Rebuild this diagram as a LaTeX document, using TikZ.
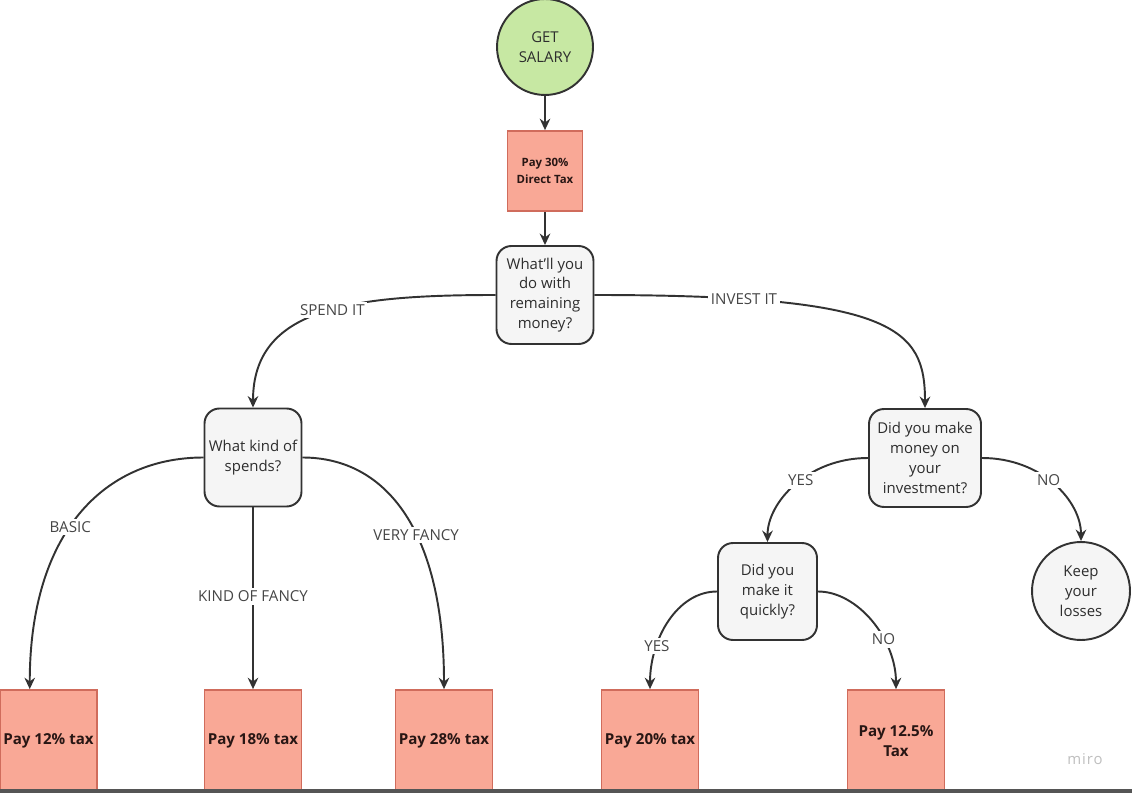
\documentclass[tikz,border=0pt]{standalone}
\usepackage{fontspec}
\setmainfont{Open Sans}
\usetikzlibrary{arrows.meta,calc}

\definecolor{salarygreen}{RGB}{199,232,163}
\definecolor{taxfill}{RGB}{249,168,150}
\definecolor{taxborder}{RGB}{208,108,92}
\definecolor{taxtext}{RGB}{40,22,20}
\definecolor{boxgray}{RGB}{245,245,245}
\definecolor{linegray}{RGB}{50,50,50}
\definecolor{textgray}{RGB}{45,45,45}
\definecolor{labelgray}{RGB}{70,70,70}
\definecolor{mirogray}{RGB}{190,190,190}
\definecolor{bottombar}{RGB}{85,85,85}

\tikzset{
	basenode/.style={draw=linegray, line width=1.1pt, text=textgray, align=center,
		font=\fontsize{8.5}{11.3}\selectfont, inner sep=0pt},
	salarynode/.style={basenode, circle, fill=salarygreen, minimum size=1.92cm},
	lossnode/.style={basenode, circle, fill=boxgray, minimum size=1.96cm},
	questionbox/.style={basenode, rounded corners=8.5pt, fill=boxgray,
		minimum width=1.94cm, minimum height=1.96cm},
	taxbox/.style={draw=taxborder, line width=1pt, fill=taxfill, text=taxtext, align=center,
		font=\bfseries\fontsize{8.6}{11.5}\selectfont, minimum width=1.94cm, minimum height=2.04cm, inner sep=0pt},
	answerlabel/.style={fill=white, text=labelgray, font=\fontsize{8.6}{10}\selectfont, inner sep=1.5pt},
	flow/.style={draw=linegray, line width=1.1pt, -{Stealth[length=6.5pt,width=6pt]}},
}

\begin{document}
\begin{tikzpicture}[x=0.02cm,y=-0.02cm]
	\useasboundingbox (0,0) rectangle (1132,793);
	
	% top of the chart
	\node[salarynode] (salary) at (545,47) {GET\\SALARY};
	\node[taxbox, minimum width=1.5cm, minimum height=1.6cm,
		font=\bfseries\fontsize{6.5}{9.2}\selectfont] (direct) at (545,171) {Pay 30\%\\Direct Tax};
	\node[questionbox] (remaining) at (545,295) {What'll you\\do with\\remaining\\money?};
	
	% questions
	\node[questionbox] (spends) at (253,457.5) {What kind of\\spends?};
	\node[questionbox, minimum width=2.24cm] (profit) at (925,458) {Did you make\\money on\\your\\investment?};
	\node[questionbox, minimum width=1.98cm, minimum height=1.94cm] (quick) at (767.5,591.5) {Did you\\make it\\quickly?};
	\node[lossnode] (losses) at (1081,591) {Keep\\your\\losses};
	
	% taxes
	\node[taxbox] (basic) at (48.5,741) {Pay 12\% tax};
	\node[taxbox] (kind) at (253,741) {Pay 18\% tax};
	\node[taxbox] (fancy) at (444,741) {Pay 28\% tax};
	\node[taxbox] (fast) at (650,741) {Pay 20\% tax};
	\node[taxbox] (slow) at (896,741) {Pay 12.5\%\\Tax};
	
	\path[every edge/.append style={flow}] (salary) edge (direct)
	(direct) edge (remaining)
	(remaining.west) edge[out=180, in=90, out distance=2.94cm, in distance=1.98cm]
		node[answerlabel, pos=0.45] {SPEND IT} (spends.north)
	(remaining.east) edge[out=0, in=90, out distance=6cm, in distance=1.6cm]
		node[answerlabel, pos=0.2] {INVEST IT} (profit.north)
	(spends.west) edge[out=180, in=90, out distance=2cm, in distance=3.12cm]
		node[answerlabel, pos=0.55] {BASIC} ($(basic.north west)!0.31!(basic.north east)$)
	(spends.south) edge node[answerlabel, pos=0.49] {KIND OF FANCY} (kind.north)
	(spends.east) edge[out=0, in=90, out distance=1.7cm, in distance=3.12cm]
		node[answerlabel, pos=0.58] {VERY FANCY} (fancy.north)
	(profit.west) edge[out=180, in=90, out distance=1.2cm, in distance=0.8cm]
		node[answerlabel, pos=0.45] {YES} (quick.north)
	(profit.east) edge[out=0, in=90, out distance=1.2cm, in distance=0.8cm]
		node[answerlabel, pos=0.45] {NO} (losses.north)
	(quick.west) edge[out=180, in=90, out distance=0.8cm, in distance=1cm]
		node[answerlabel, pos=0.7] {YES} (fast.north)
	(quick.east) edge[out=0, in=90, out distance=0.8cm, in distance=1cm]
		node[answerlabel, pos=0.65] {NO} (slow.north);
	
	\node[text=mirogray, font=\fontsize{8.5}{10}\selectfont\addfontfeatures{LetterSpace=6}] (miro) at (1085,759) {miro};
	\fill[bottombar] (0,789) rectangle (1132,793);
\end{tikzpicture}
\end{document}
